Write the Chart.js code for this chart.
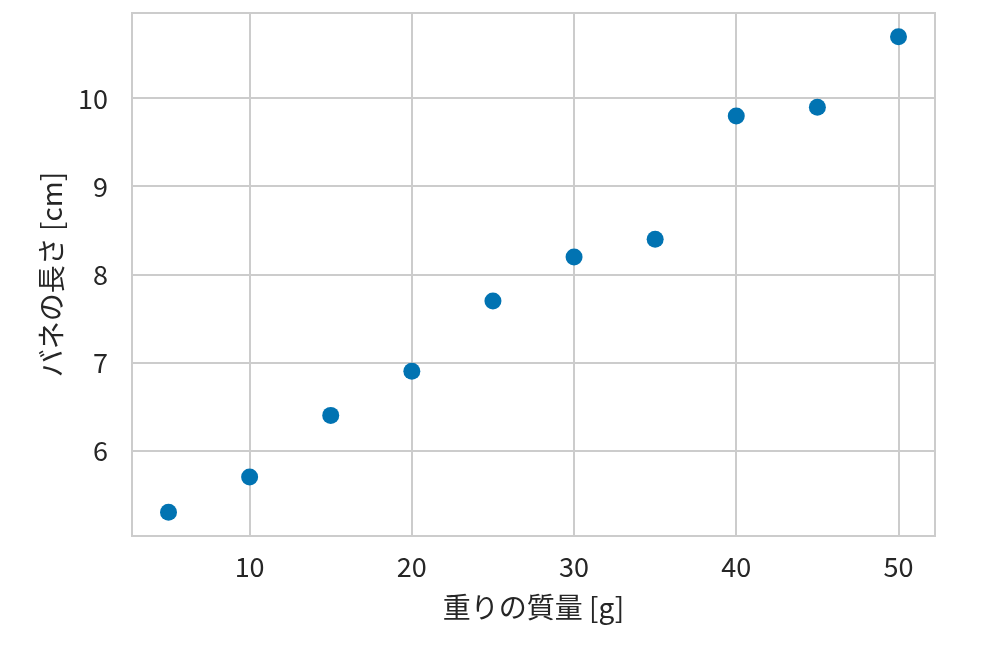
<!DOCTYPE html>
<html>
<head>
<meta charset="utf-8">
<script src="https://cdn.jsdelivr.net/npm/chart.js@4"></script>
<style>
  html, body { margin: 0; padding: 0; background: #fff; }
  #wrap { width: 984px; height: 650px; }
</style>
</head>
<body>
<div id="wrap"><canvas id="chart" width="984" height="650"></canvas></div>
<script>
// 重り [g] と バネの長さ [cm]
const masses = [5, 10, 15, 20, 25, 30, 35, 40, 45, 50];
const lengths = [5.3, 5.7, 6.4, 6.9, 7.7, 8.2, 8.4, 9.8, 9.9, 10.7];
const xTicks = [10, 20, 30, 40, 50];
const yTicks = [6, 7, 8, 9, 10];

const gridColor = "#cccccc";
const textColor = "#262626";
const jpFont = "'Noto Sans CJK JP', 'Noto Sans', sans-serif";

// 枠線（seaborn whitegrid 風）
const frame = {
    id: "frame",
    afterDatasetsDraw(chart) {
        const { ctx, chartArea: a } = chart;
        ctx.save();
        ctx.strokeStyle = gridColor;
        ctx.lineWidth = 2;
        ctx.strokeRect(a.left, a.top, a.right - a.left, a.bottom - a.top);
        ctx.restore();
    }
};

new Chart(document.getElementById("chart"), {
    type: "scatter",
    data: {
        datasets: [{
            data: masses.map((m, i) => ({ x: m, y: lengths[i] })),
            backgroundColor: "#0173b2",
            borderColor: "#0173b2",
            borderWidth: 0,
            pointRadius: 8.5,
            pointHoverRadius: 8.5
        }]
    },
    options: {
        responsive: false,
        animation: false,
        layout: { padding: { top: 13, right: 49, left: 35, bottom: 26 } },
        plugins: { legend: { display: false }, tooltip: { enabled: false } },
        scales: {
            x: {
                type: "linear",
                min: 2.75,
                max: 52.25,
                afterBuildTicks: s => { s.ticks = xTicks.map(v => ({ value: v })); },
                afterFit: s => { s.height = 88; s.paddingLeft = 0; s.paddingRight = 0; },
                grid: { color: gridColor, lineWidth: 2, drawTicks: false },
                border: { display: false },
                ticks: {
                    color: textColor,
                    padding: 15,
                    font: { family: jpFont, size: 27 }
                },
                title: {
                    display: true,
                    text: "重りの質量 [g]",
                    color: textColor,
                    padding: 0,
                    font: { family: jpFont, size: 28 }
                }
            },
            y: {
                type: "linear",
                min: 5.03,
                max: 10.97,
                afterBuildTicks: s => { s.ticks = yTicks.map(v => ({ value: v })); },
                afterFit: s => { s.width = 97; s.paddingTop = 0; s.paddingBottom = 0; },
                grid: { color: gridColor, lineWidth: 2, drawTicks: false },
                border: { display: false },
                ticks: {
                    color: textColor,
                    padding: 24,
                    font: { family: jpFont, size: 27 }
                },
                title: {
                    display: true,
                    text: "バネの長さ [cm]",
                    color: textColor,
                    padding: 0,
                    font: { family: jpFont, size: 28 }
                }
            }
        }
    },
    plugins: [frame]
});
</script>
</body>
</html>
